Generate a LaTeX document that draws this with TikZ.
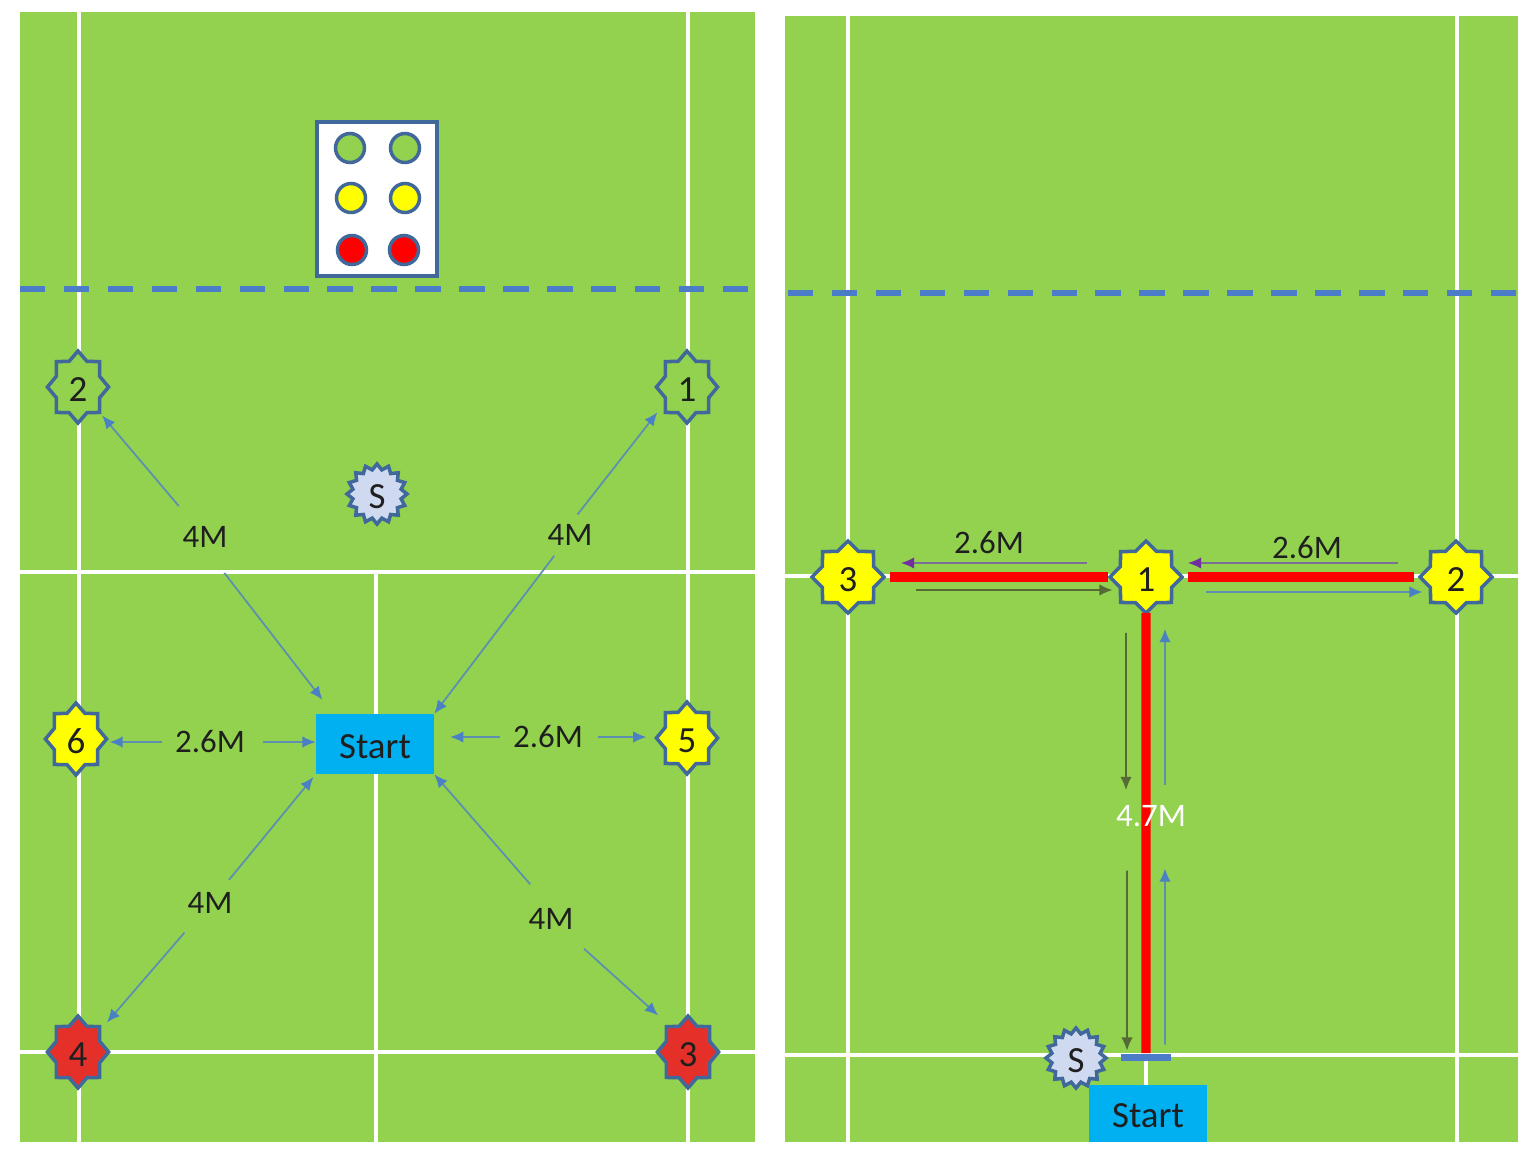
\documentclass[tikz,border=0pt]{standalone}
\usepackage{fontspec}
\usepackage{graphicx}
\setmainfont{Carlito}
\usetikzlibrary{shapes.geometric,arrows.meta}

\definecolor{field}{HTML}{92D24F}
\definecolor{edgeblue}{HTML}{41689A}
\definecolor{dashblue}{HTML}{4A7CC8}
\definecolor{startblue}{HTML}{00B0F0}
\definecolor{marblue}{HTML}{CFD9F0}
\definecolor{conered}{HTML}{E5302A}
\definecolor{coneyellow}{HTML}{FFFF00}
\definecolor{flowline}{HTML}{5D8FB0}
\definecolor{flowtip}{HTML}{4A80C4}
\definecolor{purpline}{HTML}{7C6F96}
\definecolor{purptip}{HTML}{7030A0}
\definecolor{oliveline}{HTML}{566A36}

\newcommand{\widen}[1]{\scalebox{1.18}[1]{#1}}

\tikzset{
  txt/.style={font=\fontsize{18.7}{20}\selectfont,text=black!88,inner sep=0pt},
  bigtxt/.style={font=\fontsize{21}{22}\selectfont,text=black!88,inner sep=0pt,text height=16.5pt},
  whiteline/.style={white,line width=2.6pt},
  dashline/.style={dashblue,line width=3.1pt,dash pattern=on 14.5pt off 10.5pt},
  eightstar/.style={bigtxt,draw=edgeblue,line width=2pt,star,star points=8,star point ratio=1.3,minimum size=1.44cm},
  narrowstar/.style={eightstar,xscale=0.85},
  markstar/.style={bigtxt,draw=edgeblue,fill=marblue,line width=2pt,star,star points=16,star point ratio=1.22,minimum size=1.2cm},
  startbox/.style={bigtxt,fill=startblue,minimum width=2.36cm},
  dot/.style={draw=edgeblue,line width=2pt,circle,minimum size=0.58cm,inner sep=0pt},
  flow/.style={flowline,line width=1pt,-{Latex[length=7.5pt,width=6.5pt,color=flowtip]}},
  flowp/.style={purpline,line width=1pt,-{Latex[length=7.5pt,width=6.5pt,color=purptip]}},
  flowo/.style={oliveline,line width=1pt,-{Latex[length=7.5pt,width=6.5pt,color=oliveline]}},
  redrun/.style={red,line width=5.2pt}
}

\begin{document}
\begin{tikzpicture}[x=0.02cm,y=-0.02cm]
\useasboundingbox (0,0) rectangle (1534,1154);

%left field
\fill[field] (20,12) rectangle (755,1142);
\draw[whiteline] (79,12) -- (79,1142);
\draw[whiteline] (688,12) -- (688,1142);
\draw[whiteline] (20,572) -- (755,572);
\draw[whiteline] (20,1052) -- (755,1052);
\draw[whiteline] (376,572) -- (376,1142);
\draw[dashline] (20,289) -- (752,289);

%right field
\fill[field] (785,16) rectangle (1518,1142);
\draw[whiteline] (848,16) -- (848,1142);
\draw[whiteline] (1457,16) -- (1457,1142);
\draw[whiteline] (785,576) -- (1518,576);
\draw[whiteline] (785,1055) -- (1518,1055);
\draw[whiteline] (1146,1055) -- (1146,1090);
\draw[dashline] (788,293) -- (1518,293);

%board
\node[draw=edgeblue,fill=white,line width=2pt,minimum width=2.4cm,minimum height=3.08cm,inner sep=0pt] (board) at (377,199) {};
\node[dot,fill=field] (dotga) at (350,148) {};
\node[dot,fill=field] (dotgb) at (405,148) {};
\node[dot,fill=coneyellow] (dotya) at (351,198) {};
\node[dot,fill=coneyellow] (dotyb) at (405,198) {};
\node[dot,fill=red] (dotra) at (352,250) {};
\node[dot,fill=red] (dotrb) at (404,250) {};

%left stars
\node[narrowstar,fill=field] (ltwo) at (78,387) {\widen{2}};
\node[narrowstar,fill=field] (lone) at (687,387) {\widen{1}};
\node[markstar] (lmark) at (377,494) {S};
\node[narrowstar,fill=coneyellow] (lsix) at (76,739) {\widen{6}};
\node[narrowstar,fill=coneyellow] (lfive) at (687,738) {\widen{5}};
\node[narrowstar,fill=conered] (lfour) at (78,1052) {\widen{4}};
\node[narrowstar,fill=conered] (lthree) at (688,1052) {\widen{3}};
\node[startbox,minimum height=1.2cm] (lstart) at (375,744) {Start};

%left labels
\node[txt] (laba) at (205,537) {4M};
\node[txt] (labb) at (570,535) {4M};
\node[txt] (labc) at (210,742) {2.6M};
\node[txt] (labd) at (548,737) {2.6M};
\node[txt] (labe) at (210,903) {4M};
\node[txt] (labf) at (551,919) {4M};

\draw[flow,shorten <=15pt,shorten >=1pt] (laba) -- (ltwo);
\draw[flow,shorten <=18pt,shorten >=10pt] (laba.south) -- (lstart.144);
\draw[flow,shorten <=7pt,shorten >=6pt] (labb.north) -- (lone.212);
\draw[flow,shorten <=7pt] (labb) -- (lstart.north east);
\draw[flow,shorten <=7.5pt,shorten >=0.5pt] (labc.west) -- (labc.west -| lsix.east);
\draw[flow,shorten <=10pt] (labc.east) -- (labc.east -| lstart.west);
\draw[flow,shorten <=7.5pt,shorten >=9pt] (labd.west) -- (labd.west -| lstart.east);
\draw[flow,shorten <=8.5pt,shorten >=4.5pt] (labd.east) -- (labd.east -| lfive.west);
\draw[flow,shorten <=9pt,shorten >=2pt] (labe) -- (lstart.south west);
\draw[flow,shorten <=14pt,shorten >=5pt] (labe) -- (lfour.40);
\draw[flow,shorten <=18pt] (labf.north) -- (lstart.south east);
\draw[flow,shorten <=16pt,shorten >=8pt] (labf) -- (lthree.130);

%right stars
\node[eightstar,fill=coneyellow] (rthree) at (848,577) {3};
\node[eightstar,fill=coneyellow] (rone) at (1146,577) {1};
\node[eightstar,fill=coneyellow] (rtwo) at (1456,577) {2};
\node[markstar] (rmark) at (1076,1058) {S};
\node[fill=dashblue,minimum width=1cm,minimum height=0.14cm,inner sep=0pt] (rbar) at (1146,1057) {};
\node[startbox,minimum height=1.14cm] (rstart) at (1148,1113.5) {Start};

%red runs
\draw[redrun,shorten <=2pt] (rthree.east) -- (rone.west);
\draw[redrun,shorten <=2pt,shorten >=2pt] (rone.east) -- (rtwo.west);
\draw[redrun,shorten <=-1.5pt] (rone.south) -- (rbar.north);

%right labels
\node[txt] (rlabl) at (989,543) {2.6M};
\node[txt] (rlabr) at (1307,548) {2.6M};
\node[txt,text=white] (rlabv) at (1151,816) {4.7M};

\draw[flowp] ([xshift=-0.41cm,yshift=0.28cm]rone.west) -- ([xshift=0.29cm,yshift=0.28cm]rthree.east);
\draw[flowo] ([xshift=0.59cm,yshift=-0.26cm]rthree.east) -- ([xshift=0.1cm,yshift=-0.26cm]rone.west);
\draw[flowp] ([xshift=-0.39cm,yshift=0.28cm]rtwo.west) -- ([xshift=0.07cm,yshift=0.28cm]rone.east);
\draw[flow] ([xshift=0.43cm,yshift=-0.3cm]rone.east) -- ([xshift=0.1cm,yshift=-0.3cm]rtwo.west);
\draw[flowo] ([xshift=-0.4cm,yshift=-0.35cm]rone.south) -- ([xshift=-0.5cm,yshift=0.3cm]rlabv.north);
\draw[flow] ([xshift=0.28cm,yshift=0.4cm]rlabv.north) -- ([xshift=0.38cm,yshift=-0.27cm]rone.south);
\draw[flowo] ([xshift=-0.48cm,yshift=-0.87cm]rlabv.south) -- ([xshift=-0.38cm,yshift=0.05cm]rbar.north);
\draw[flow] ([xshift=0.38cm,yshift=0.17cm]rbar.north) -- ([xshift=0.28cm,yshift=-0.83cm]rlabv.south);

\end{tikzpicture}
\end{document}
